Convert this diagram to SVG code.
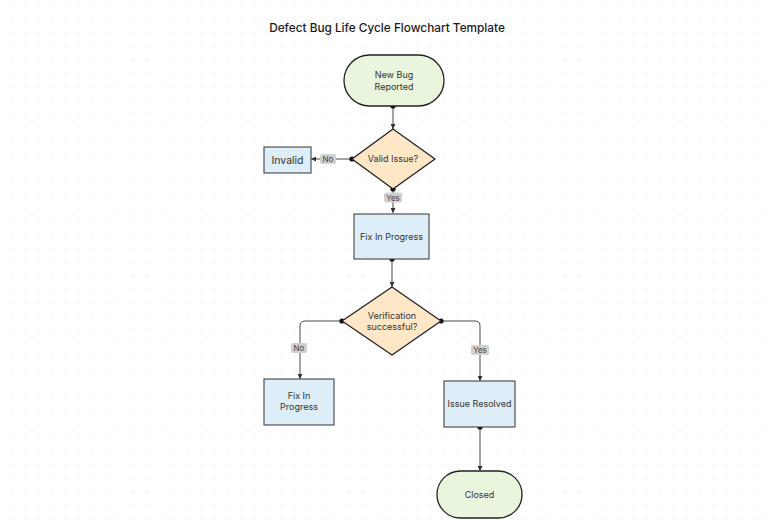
<svg xmlns="http://www.w3.org/2000/svg" width="778" height="531" viewBox="0 0 778 531">
<defs>
<pattern id="grid" x="5" y="0" width="13.5" height="13.5" patternUnits="userSpaceOnUse">
<circle cx="6.75" cy="6" r="0.6" fill="#dedede"/>
</pattern>
<marker id="arr" viewBox="0 0 6 6" refX="6" refY="3" markerWidth="5" markerHeight="5" orient="auto" markerUnits="userSpaceOnUse">
<path d="M0,0 L6,3 L0,6 Z" fill="#333"/>
</marker>
<style>
.t{font-family:"Inter","Liberation Sans",sans-serif;fill:#333;font-size:9px;text-anchor:middle}
.title{font-family:"Inter","Liberation Sans",sans-serif;fill:#1a1a1a;font-size:11.8px;font-weight:500;text-anchor:middle}
.term{fill:#e9f5dd;stroke:#222;stroke-width:1.3}
.proc{fill:#ddeef8;stroke:#444;stroke-width:1.1}
.dec{fill:#fde7c6;stroke:#222;stroke-width:1.3;stroke-linejoin:round}
.ln{fill:none;stroke:#333;stroke-width:0.9}
.lbl{fill:#d0d0d0}
.lt{font-family:"Inter","Liberation Sans",sans-serif;fill:#444;font-size:8px;text-anchor:middle}
.dot{fill:#111}
</style>
</defs>
<rect width="778" height="531" fill="#ffffff"/>
<rect width="778" height="531" fill="url(#grid)"/>
<text class="title" x="387" y="32">Defect Bug Life Cycle Flowchart Template</text>

<g id="connectors">
<path class="ln" d="M393,106 V129" marker-end="url(#arr)"/>
<path class="ln" d="M352,159 H311" marker-end="url(#arr)"/>
<rect class="lbl" x="320" y="154" width="16" height="10" rx="2"/>
<text class="lt" x="328" y="162">No</text>
<path class="ln" d="M393,189 V213" marker-end="url(#arr)"/>
<rect class="lbl" x="384" y="192.5" width="18" height="10" rx="2"/>
<text class="lt" x="393" y="200.5">Yes</text>
<path class="ln" d="M392,259 V287" marker-end="url(#arr)"/>
<path class="ln" d="M342,321 H305 Q300,321 300,326 V379" marker-end="url(#arr)"/>
<rect class="lbl" x="291" y="343" width="16" height="10" rx="2"/>
<text class="lt" x="299" y="351">No</text>
<path class="ln" d="M441,321 H475 Q480,321 480,326 V381" marker-end="url(#arr)"/>
<rect class="lbl" x="471" y="345" width="18" height="10" rx="2"/>
<text class="lt" x="480" y="353">Yes</text>
<path class="ln" d="M480,427 V471" marker-end="url(#arr)"/>
<circle class="dot" cx="393" cy="106" r="2.6"/>
<circle class="dot" cx="352" cy="159" r="2.6"/>
<circle class="dot" cx="393" cy="189" r="2.6"/>
<circle class="dot" cx="392" cy="259" r="2.6"/>
<circle class="dot" cx="342" cy="321" r="2.6"/>
<circle class="dot" cx="441" cy="321" r="2.6"/>
<circle class="dot" cx="480" cy="427" r="2.6"/>
</g>

<g id="new-bug">
<rect class="term" x="344" y="55" width="100" height="51" rx="25.5"/>
<text class="t" x="394" y="78">New Bug</text>
<text class="t" x="394" y="90">Reported</text>
</g>

<g id="valid-issue">
<path class="dec" d="M393,129 L435,159 L393,189 L352,159 Z"/>
<text class="t" x="393" y="162">Valid Issue?</text>
</g>

<g id="invalid">
<rect class="proc" x="264" y="147" width="47" height="26"/>
<text class="t" x="287.5" y="163.5" style="font-size:10.5px">Invalid</text>
</g>

<g id="fix-in-progress">
<rect class="proc" x="354" y="214" width="75" height="45"/>
<text class="t" x="391.5" y="239.5">Fix In Progress</text>
</g>

<g id="verification">
<path class="dec" d="M392,287 L441,321 L392,355 L342,321 Z"/>
<text class="t" x="392" y="319">Verification</text>
<text class="t" x="392" y="330">successful?</text>
</g>

<g id="fix-in-progress-2">
<rect class="proc" x="264" y="379" width="70" height="46"/>
<text class="t" x="299" y="399">Fix In</text>
<text class="t" x="299" y="410">Progress</text>
</g>

<g id="issue-resolved">
<rect class="proc" x="444" y="381" width="71" height="46"/>
<text class="t" x="479.5" y="407">Issue Resolved</text>
</g>

<g id="closed">
<rect class="term" x="437" y="471" width="85" height="47" rx="23.5"/>
<text class="t" x="479.5" y="497.5">Closed</text>
</g>
</svg>
